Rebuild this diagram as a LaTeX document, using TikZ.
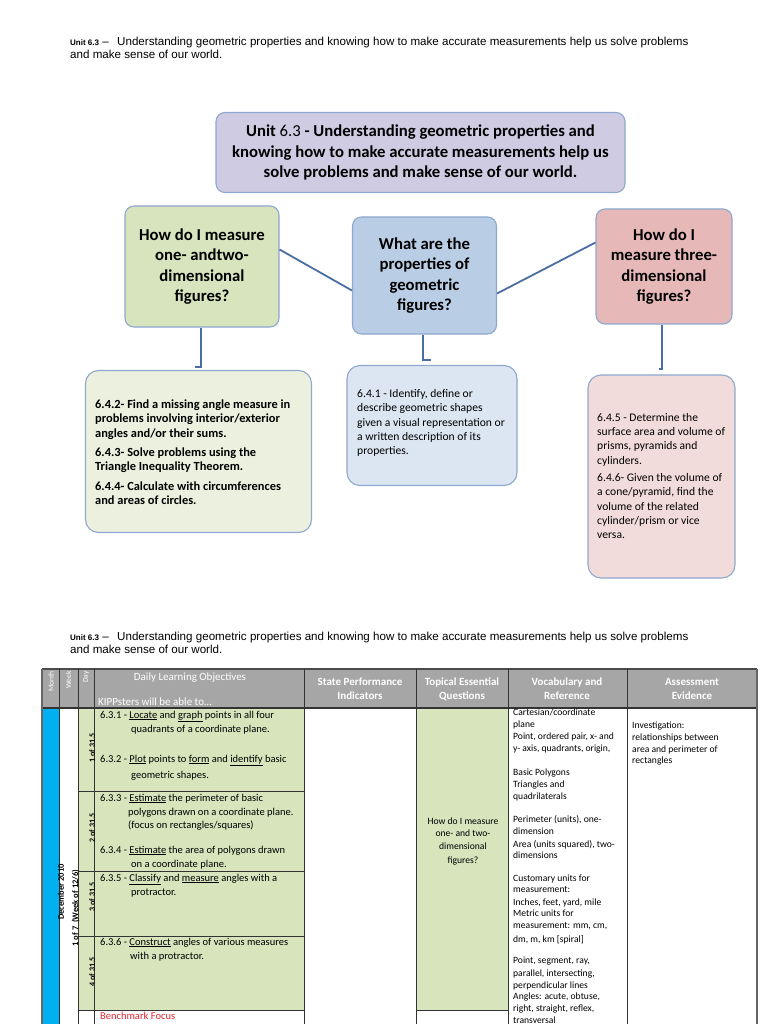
\documentclass[tikz,border=0pt]{standalone}
\usepackage{fontspec}
\setmainfont{Carlito}
\newfontfamily\arialf{Liberation Sans}
\usetikzlibrary{calc}
\definecolor{unitfill}{HTML}{CFCBE2}
\definecolor{qgreen}{HTML}{D7E4BD}
\definecolor{qblue}{HTML}{B9CDE5}
\definecolor{qred}{HTML}{E6B9B8}
\definecolor{dgreen}{HTML}{EBF1DE}
\definecolor{dblue}{HTML}{DCE6F2}
\definecolor{dred}{HTML}{F2DCDB}
\definecolor{boxline}{HTML}{8EA8CF}
\definecolor{linkblue}{HTML}{4A6EA3}
\definecolor{hdrgray}{HTML}{A6A6A6}
\definecolor{tgreen}{HTML}{D7E4BC}
\definecolor{mcyan}{HTML}{00B0F0}
\definecolor{bred}{HTML}{E8262C}
\begin{document}
\begin{tikzpicture}[x=1pt,y=-1pt,
  hdr/.style={anchor=base west,inner sep=0,font=\arialf\fontsize{11.6}{13}\selectfont},
  qbox/.style={rounded corners=9pt,draw=boxline,line width=1.1pt,align=center,inner sep=0,
     font=\bfseries\fontsize{16.7}{20.4}\selectfont},
  dbox/.style={rounded corners=13pt,draw=boxline,line width=1.1pt,inner sep=0},
  dtxt/.style={anchor=west,align=left,inner sep=0},
  link/.style={draw=linkblue,line width=1.8pt},
  tline/.style={draw=black!80,line width=0.8pt},
  objtxt/.style={anchor=base west,inner sep=0,font=\fontsize{10.5}{12}\selectfont},
  voctxt/.style={anchor=base west,inner sep=0,font=\fontsize{9.6}{12}\selectfont},
  cvoctxt/.style={anchor=base,inner sep=0,font=\fontsize{9.6}{12}\selectfont},
  thead/.style={anchor=base,inner sep=0,text=white,font=\bfseries\fontsize{11}{14}\selectfont},
  rottxt/.style={rotate=90,inner sep=0,font=\bfseries\fontsize{8}{9}\selectfont},
  colhead/.style={rotate=90,inner sep=0,anchor=east,text=white,font=\fontsize{7.5}{8}\selectfont}
]
\useasboundingbox (0,0) rectangle (768,1024);
\fill[white] (0,0) rectangle (768,1024);

% ---------- page header 1
\node[hdr] (h1a) at (70,46) {{\bfseries\fontsize{8}{9}\selectfont Unit 6.3} –};
\node[hdr] (h1b) at (117,46) {Understanding geometric properties and knowing how to make accurate measurements help us solve problems};
\node[hdr] (h1c) at (70,59) {and make sense of our world.};

% ---------- concept map
\node[qbox,fill=unitfill,minimum width=409,minimum height=80] (unit) at (420.5,152.5)
  {Unit {\mdseries 6.3} - Understanding geometric properties and\\knowing how to make accurate measurements help us\\solve problems and make sense of our world.};
\node[qbox,fill=qgreen,minimum width=154,minimum height=121] (q1) at (202,266.5)
  {How do I measure\\one- andtwo-\\dimensional\\figures?};
\node[qbox,fill=qblue,minimum width=144,minimum height=117] (q2) at (424.5,275.5)
  {What are the\\properties of\\geometric\\figures?};
\node[qbox,fill=qred,minimum width=136,minimum height=115] (q3) at (664,266.5)
  {How do I\\measure three-\\dimensional\\figures?};

\draw[link] ($(q1.east)+(0,-17)$) -- ($(q2.west)+(0,15)$);
\draw[link] ($(q2.east)+(0,18)$) -- ($(q3.west)+(0,-24)$);

\node[dbox,fill=dgreen,minimum width=226,minimum height=162] (d1) at (198.5,451.5) {};
\node[dbox,fill=dblue,minimum width=170,minimum height=120] (d2) at (432,425.5) {};
\node[dbox,fill=dred,minimum width=147,minimum height=203] (d3) at (661.5,476.5) {};

\coordinate (s1) at (195,367);
\coordinate (s2) at (431,360);
\coordinate (s3) at (659,369);
\draw[link,line width=1.6pt] ([xshift=-1pt]q1.south) |- (s1);
\draw[link,line width=1.6pt] ([xshift=-1.5pt]q2.south) |- (s2);
\draw[link,line width=1.6pt] ([xshift=-2pt]q3.south) |- (s3);

\node[dtxt,font=\bfseries\fontsize{12.4}{14.6}\selectfont] (t1) at (95,452)
  {6.4.2- Find a missing angle measure in\\problems involving interior/exterior\\angles and/or their sums.\\[4.5pt]
   6.4.3- Solve problems using the\\Triangle Inequality Theorem.\\[4.5pt]
   6.4.4- Calculate with circumferences\\and areas of circles.};
\node[dtxt,font=\fontsize{11.6}{14.3}\selectfont] (t2) at (357,423)
  {6.4.1 - Identify, define or\\describe geometric shapes\\given a visual representation or\\a written description of its\\properties.};
\node[dtxt,font=\fontsize{11.6}{14.3}\selectfont] (t3) at (597,476)
  {6.4.5 - Determine the\\surface area and volume of\\prisms, pyramids and\\cylinders.\\[3pt]
   6.4.6- Given the volume of\\a cone/pyramid, find the\\volume of the related\\cylinder/prism or vice\\versa.};

% ---------- page header 2
\node[hdr] (h2a) at (70,640) {{\bfseries\fontsize{8}{9}\selectfont Unit 6.3} –};
\node[hdr] (h2b) at (117,640) {Understanding geometric properties and knowing how to make accurate measurements help us solve problems};
\node[hdr] (h2c) at (70,653) {and make sense of our world.};

% ---------- table fills
\fill[hdrgray] (42,669) rectangle (757,708);
\fill[mcyan] (42,708) rectangle (59,1024);
\fill[tgreen] (78,708) rectangle (304,1010);
\fill[tgreen] (416,708) rectangle (508,1010);

% header texts
\node[colhead] (mh) at (51,671) {Month};
\node[colhead] (wh) at (68.5,671) {Week};
\node[colhead] (dh) at (86,671) {Day};
\node[thead,font=\fontsize{11}{14}\selectfont] (th1) at (190,680) {Daily Learning Objectives};
\node[thead,anchor=base west,font=\fontsize{11}{14}\selectfont] (th1b) at (98,705) {KIPPsters will be able to…};
\node[thead] (th2a) at (360,685) {State Performance};
\node[thead] (th2b) at (360,699) {Indicators};
\node[thead] (th3a) at (462,685) {Topical Essential};
\node[thead] (th3b) at (462,699) {Questions};
\node[thead] (th4a) at (567,685) {Vocabulary and};
\node[thead] (th4b) at (567,699) {Reference};
\node[thead] (th5a) at (692,685) {Assessment};
\node[thead] (th5b) at (692,699) {Evidence};

% table lines
\draw[draw=black!70,line width=1.4pt] (42,669) -- (757,669);
\draw[draw=black!80,line width=1.4pt] (42,708) -- (757,708);
\foreach \xx in {42,59,78,94,304,416,508,627,757}
  \draw[tline] (\xx,669) -- (\xx,1024);
\draw[draw=black!60,line width=1.4pt] (757,669) -- (757,1024);
\draw[draw=black!60,line width=1.4pt] (42,669) -- (42,1024);
\foreach \yy in {791,871,936,1010}
  \draw[tline] (78,\yy) -- (304,\yy);
\draw[tline] (416,1010) -- (508,1010);

% rotated texts
\node[rottxt,font=\bfseries\fontsize{8.5}{9}\selectfont] (mon) at (61,892) {December 2010};
\node[rottxt,font=\bfseries\fontsize{8.5}{9}\selectfont] (wk) at (75.5,908) {1 of 7\ \ (Week of 12/6)};
\node[rottxt] (dy1) at (92,748) {1 of 31.5};
\node[rottxt] (dy2) at (92,828) {2 of 31.5};
\node[rottxt] (dy3) at (92,897) {3 of 31.5};
\node[rottxt] (dy4) at (92,972) {4 of 31.5};

% objectives
\node[objtxt] (o1) at (100,718) {6.3.1 - \underline{Locate} and \underline{graph} points in all four};
\node[objtxt] (o1b) at (131,732) {quadrants of a coordinate plane.};
\node[objtxt] (o2) at (100,762) {6.3.2 - \underline{Plot} points to \underline{form} and \underline{identify} basic};
\node[objtxt] (o2b) at (131,778) {geometric shapes.};
\node[objtxt] (o3) at (100,801) {6.3.3 - \underline{Estimate} the perimeter of basic};
\node[objtxt] (o3b) at (128,815) {polygons drawn on a coordinate plane.};
\node[objtxt] (o3c) at (128,828) {(focus on rectangles/squares)};
\node[objtxt] (o4) at (100,853) {6.3.4 - \underline{Estimate} the area of polygons drawn};
\node[objtxt] (o4b) at (131,867) {on a coordinate plane.};
\node[objtxt] (o5) at (100,881) {6.3.5 - \underline{Classify} and \underline{measure} angles with a};
\node[objtxt] (o5b) at (131,895) {protractor.};
\node[objtxt] (o6) at (100,945) {6.3.6 - \underline{Construct} angles of various measures};
\node[objtxt] (o6b) at (130,959) {with a protractor.};
\node[objtxt,text=bred] (bf) at (100,1019) {Benchmark Focus};

% topical question
\node[cvoctxt] (tq1) at (463,824) {How do I measure};
\node[cvoctxt] (tq2) at (463,836) {one- and two-};
\node[cvoctxt] (tq3) at (463,849) {dimensional};
\node[cvoctxt] (tq4) at (463,863) {figures?};

% vocabulary
\node[voctxt] (v1) at (513,715) {Cartesian/coordinate};
\node[voctxt] (v2) at (513,727) {plane};
\node[voctxt] (v3) at (513,739) {Point, ordered pair, x- and};
\node[voctxt] (v4) at (513,751) {y- axis, quadrants, origin,};
\node[voctxt] (v5) at (513,775) {Basic Polygons};
\node[voctxt] (v6) at (513,787) {Triangles and};
\node[voctxt] (v7) at (513,799) {quadrilaterals};
\node[voctxt] (v8) at (513,822) {Perimeter (units), one-};
\node[voctxt] (v9) at (513,834) {dimension};
\node[voctxt] (v10) at (513,847) {Area (units squared), two-};
\node[voctxt] (v11) at (513,858) {dimensions};
\node[voctxt] (v12) at (513,881) {Customary units for};
\node[voctxt] (v13) at (513,892) {measurement:};
\node[voctxt] (v14) at (513,905) {Inches, feet, yard, mile};
\node[voctxt] (v15) at (513,916) {Metric units for};
\node[voctxt] (v16) at (513,928) {measurement: mm, cm,};
\node[voctxt] (v17) at (513,942) {dm, m, km [spiral]};
\node[voctxt] (v18) at (513,963) {Point, segment, ray,};
\node[voctxt] (v19) at (513,976) {parallel, intersecting,};
\node[voctxt] (v20) at (513,988) {perpendicular lines};
\node[voctxt] (v21) at (513,999) {Angles: acute, obtuse,};
\node[voctxt] (v22) at (513,1011) {right, straight, reflex,};
\node[voctxt] (v23) at (513,1023) {transversal};

% assessment
\node[voctxt] (a1) at (632,728) {Investigation:};
\node[voctxt] (a2) at (632,740) {relationships between};
\node[voctxt] (a3) at (632,752) {area and perimeter of};
\node[voctxt] (a4) at (632,763) {rectangles};
\end{tikzpicture}
\end{document}
